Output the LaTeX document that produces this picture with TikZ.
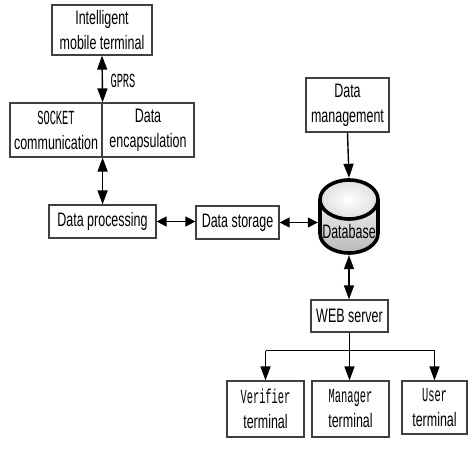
\documentclass[tikz,border=0pt]{standalone}
\usepackage{fontspec}
\setmainfont{Liberation Sans}[FakeStretch=0.64]
\newfontfamily\cn{Liberation Mono}[FakeStretch=0.52]
\usetikzlibrary{arrows.meta}
\begin{document}
\begin{tikzpicture}[x=1pt,y=-1pt,
  box/.style={draw=black!75, line width=1.2pt, fill=white, inner sep=0pt, align=center,
    font=\fontsize{19.5}{25}\selectfont},
  conn/.style={line width=1.4pt, black},
  vboth/.style={conn, {Triangle[length=14pt,width=10pt]}-{Triangle[length=14pt,width=10pt]}},
  hboth/.style={conn, {Triangle[length=10pt,width=10pt]}-{Triangle[length=10pt,width=10pt]}},
  vone/.style={conn, -{Triangle[length=14pt,width=10pt]}},
  lbl/.style={inner sep=0pt, font=\fontsize{19.5}{25}\selectfont},
  mono/.style={font=\cn\fontsize{20}{25}\selectfont}
]
\useasboundingbox (0,0) rectangle (474,465);

% boxes
\node[box, minimum width=100, minimum height=50] (imt) at (102,30) {Intelligent\\mobile terminal};
\node[box, minimum width=92, minimum height=54] (sock) at (56,130) {{\cn\fontsize{20}{25}\selectfont SOCKET}\\communication};
\node[box, minimum width=92, minimum height=54] (encap) at (148,130) {Data\\encapsulation};
\node[box, minimum width=107, minimum height=33] (proc) at (102.5,221.5) {Data processing};
\node[box, minimum width=83, minimum height=33] (stor) at (237.5,222.5) {Data storage};
\node[box, minimum width=83, minimum height=54] (mgmt) at (347.5,105) {Data\\management};
\node[box, minimum width=77, minimum height=32] (web) at (349.5,316) {WEB server};
\node[box, minimum width=77, minimum height=56] (ver) at (265.5,409) {{\cn\fontsize{20}{25}\selectfont Verifier}\\terminal};
\node[box, minimum width=77, minimum height=56] (man) at (350.5,409) {{\cn\fontsize{20}{25}\selectfont Manager}\\terminal};
\node[box, minimum width=65, minimum height=53] (user) at (434.5,407.5) {{\cn\fontsize{20}{25}\selectfont User}\\terminal};

% database cylinder
\node[inner sep=0pt, minimum width=62, minimum height=77] (db) at (349,216.5) {};
\fill[top color=gray!10, bottom color=gray!55]
  (320,199.5) -- (320,233.5) arc[start angle=180, end angle=0, x radius=29, y radius=19.5]
  -- (378,199.5) -- cycle;
\shade[inner color=white, outer color=gray!25] (349,199.5) ellipse[x radius=29, y radius=19.5];
\draw[line width=3.6pt]
  (320,199.5) -- (320,233.5) arc[start angle=180, end angle=0, x radius=29, y radius=19.5]
  -- (378,199.5);
\draw[line width=3.6pt] (349,199.5) ellipse[x radius=29, y radius=19.5];
\node[lbl] (dbl) at (349,232) {Database};

% connectors
\draw[vboth] (imt.south) -- (sock.north east);
\node[inner sep=0pt, mono] (gprs) at (123,81) {GPRS};
\draw[vboth] (sock.south east) -- (sock.south east |- proc.north);
\draw[hboth] (proc.east) -- (proc.east -| stor.west);
\draw[hboth] (stor.east) -- (stor.east -| db.west);
\draw[vone] (mgmt.south) -- (db.north);
\draw[vboth] (db.south) -- (db.south |- web.north);
\draw[conn] (web.south) -- ++(0,18) coordinate (br);
\draw[conn] (ver.north |- br) -- (user.north |- br);
\draw[vone] (ver.north |- br) -- (ver.north);
\draw[vone] (br) -- (br |- man.north);
\draw[vone] (user.north |- br) -- (user.north);
\end{tikzpicture}
\end{document}
